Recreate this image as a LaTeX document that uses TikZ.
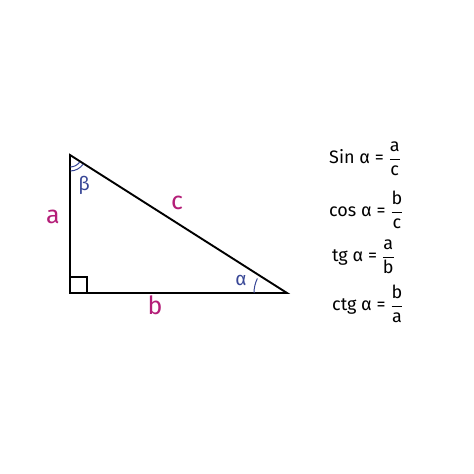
\documentclass[tikz,border=0pt]{standalone}
\usepackage{amsmath}
\usepackage{fontspec}
\setmainfont{Fira Sans}
\definecolor{mag}{RGB}{180,30,120}
\definecolor{blu}{RGB}{55,70,150}
\begin{document}
\begin{tikzpicture}[x=1pt,y=-1pt,
  side/.style={line width=1.9pt,line join=miter},
  lbl/.style={text=mag,font=\fontsize{25}{27}\selectfont,inner sep=0pt},
  ang/.style={text=blu,font=\fontsize{19}{21}\selectfont,inner sep=0pt},
  angarc/.style={draw=blu,line width=1pt},
  frm/.style={font=\fontsize{18}{20}\selectfont,anchor=west,inner sep=0pt}]
\useasboundingbox[fill=white] (0,0) rectangle (474,474);
\coordinate (A) at (70,155);
\coordinate (C) at (70,293);
\coordinate (B) at (287,293);
\draw[side] (A) -- (C) -- (B) -- cycle;
\draw[line width=1.4pt] (70,277) -- (87,277) -- (87,293);
% angle arcs
\draw[angarc] ([shift={(180:33)}]B) arc[start angle=180,end angle=206,radius=33];
\draw[angarc] ([shift={(35:12)}]A) arc[start angle=35,end angle=88,radius=12];
\draw[angarc] ([shift={(35:16)}]A) arc[start angle=35,end angle=88,radius=16];
% labels
\node[lbl] (la) at (53,217) {a};
\node[lbl] (lb) at (155,305) {b};
\node[lbl] (lc) at (177,203) {c};
\node[ang] (beta) at (84,185) {β};
\node[ang] (alpha) at (241,280) {α};
% formulas
\node[frm] (f1) at (329,159) {Sin α = $\dfrac{\text{a}}{\text{c}}$};
\node[frm] (f2) at (329,210) {cos α = $\dfrac{\text{b}}{\text{c}}$};
\node[frm] (f3) at (332,257) {tg α = $\dfrac{\text{a}}{\text{b}}$};
\node[frm] (f4) at (332,304) {ctg α = $\dfrac{\text{b}}{\text{a}}$};
\end{tikzpicture}
\end{document}
